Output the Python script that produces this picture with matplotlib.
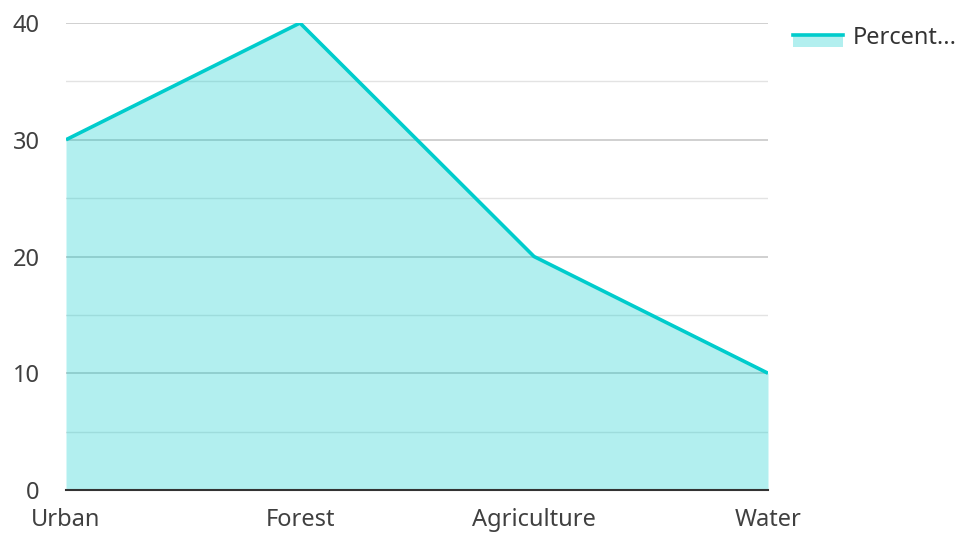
import matplotlib
matplotlib.use("Agg")
import matplotlib.pyplot as plt
from matplotlib.patches import Rectangle
from matplotlib.lines import Line2D

plt.rcParams['font.family'] = ['Noto Sans', 'DejaVu Sans']

categories = ["Urban", "Forest", "Agriculture", "Water"]
percent = [30, 40, 20, 10]
y_ticks = [0, 10, 20, 30, 40]
legend_label = "Percent..."

line_color = "#00cccc"
W, H = 963, 533
fig = plt.figure(figsize=(W / 100, H / 100), dpi=100)
ax = fig.add_axes([66 / W, 1 - 490 / H, (768 - 66) / W, (490 - 23) / H])

x = list(range(len(categories)))
ax.fill_between(x, percent, 0, color=line_color, alpha=0.3, linewidth=0, zorder=2)
ax.plot(x, percent, color=line_color, linewidth=2.6, zorder=3, solid_capstyle='butt')

ax.set_xlim(0, len(categories) - 1)
ax.set_ylim(0, 40)

# Major and minor horizontal gridlines
for v in range(5, 40, 10):
    ax.axhline(v, color="#e3e3e3", linewidth=1, zorder=1)
for v in y_ticks[1:]:
    ax.axhline(v, color="#c4c4c4", linewidth=1.1, zorder=1)

for s in ["top", "right", "left"]:
    ax.spines[s].set_visible(False)
ax.spines["bottom"].set_color("#333333")
ax.spines["bottom"].set_linewidth(1.5)
ax.spines["bottom"].set_zorder(4)

ax.set_yticks(y_ticks)
ax.set_yticklabels([str(v) for v in y_ticks])
ax.set_xticks(x)
ax.set_xticklabels(categories)
ax.tick_params(axis="both", length=0, labelsize=17, labelcolor="#404040")
ax.tick_params(axis="y", pad=19)
ax.tick_params(axis="x", pad=13)

# Legend: line over a filled swatch
lax = fig.add_axes([0, 0, 1, 1], facecolor="none")
lax.set_xlim(0, W)
lax.set_ylim(H, 0)
lax.axis("off")
lax.add_patch(Rectangle((793, 34), 50, 13, facecolor=line_color, alpha=0.3, linewidth=0))
lax.add_line(Line2D([793, 843], [35, 35], color=line_color, linewidth=2.6))
lax.text(853, 37.5, legend_label, fontsize=17, color="#333333", va="center", ha="left")

fig.savefig("out.png", dpi=100)
